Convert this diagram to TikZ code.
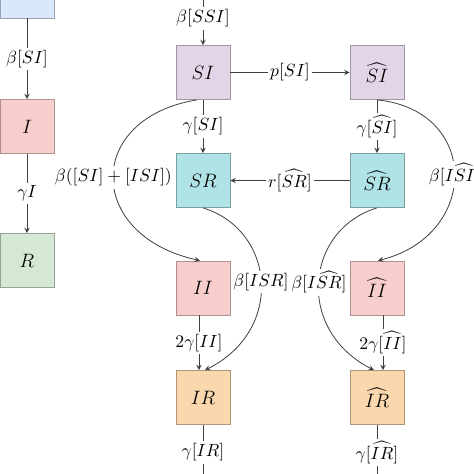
\documentclass[tikz,border=0pt]{standalone}
\usepackage{amsmath}
\usetikzlibrary{arrows, positioning, calc}
\definecolor{sblue}{HTML}{DAE8FC}
\definecolor{ipink}{HTML}{F8CECC}
\definecolor{rgreen}{HTML}{D5E8D4}
\definecolor{sipurple}{HTML}{E1D5E7}
\definecolor{srteal}{HTML}{B0E3E6}
\definecolor{irorange}{HTML}{FAD7AC}

\begin{document}
\begin{tikzpicture}[x=0.0218cm, y=-0.0218cm, >=stealth,
  box/.style={rectangle, minimum width=1.18cm, minimum height=1.18cm, draw=#1!70!black, fill=#1, font=\fontsize{11.5}{13}\selectfont},
  flow/.style={->, draw=black!75, line width=0.5pt},
  rate/.style={fill=white, inner sep=1.5pt, font=\fontsize{10.6}{12}\selectfont}]
\useasboundingbox (0,0) rectangle (474,474);
\clip (0,0) rectangle (474,474);

% Single infection chain
\node[box=sblue] (S) at (27,-9) {};
\node[box=ipink] (I) at (27,126.5) {$I$};
\node[box=rgreen] (R) at (27,260.5) {$R$};

% Pair states
\node[box=sipurple] (SI) at (203,72.5) {$SI$};
\node[box=srteal] (SR) at (203,180.5) {$SR$};
\node[box=ipink] (II) at (203,288) {$II$};
\node[box=irorange] (IR) at (203,397.5) {$IR$};

\node[box=sipurple] (SIh) at (377,72.5) {$\widehat{SI}$};
\node[box=srteal] (SRh) at (377,180.5) {$\widehat{SR}$};
\node[box=ipink] (IIh) at (377,288) {$\widehat{II}$};
\node[box=irorange] (IRh) at (377,397.5) {$\widehat{IR}$};

\coordinate (SSI) at (203,-8);
\coordinate (IRout) at (203,480);
\coordinate (IRhout) at (377,480);

% Straight flows
\draw[flow] (S) -- node[rate] {$\beta[SI]$} (I);
\draw[flow] (I) -- node[rate] {$\gamma I$} (R);
\draw[flow] (SSI) -- node[rate] {$\beta[SSI]$} (SI);
\draw[flow] (SI) -- node[rate] {$\gamma[SI]$} (SR);
\draw[flow] (SIh) -- node[rate] {$\gamma[\widehat{SI}]$} (SRh);
\draw[flow] (SI) -- node[rate] {$p[SI]$} (SIh);
\draw[flow] (SRh) -- node[rate] {$r[\widehat{SR}]$} (SR);
\draw[flow] ($(II.south)+(-4,0)$) -- node[rate] {$2\gamma[II]$} ($(IR.north)+(-4,0)$);
\draw[flow] ($(IIh.south)+(6,0)$) -- node[rate] {$2\gamma[\widehat{II}]$} ($(IRh.north)+(6,0)$);
\draw[flow] (IR) -- node[rate] {$\gamma[IR]$} (IRout);
\draw[flow] (IRh) -- node[rate] {$\gamma[\widehat{IR}]$} (IRhout);

% Curved flows
\draw[flow] ($(SI.south)+(-6,0)$) .. controls (85,118) and (85,235) .. node[rate] {$\beta([SI]+[ISI])$} ($(II.north)+(-3,0)$);
\draw[flow] (SIh.south) .. controls (480,110) and (480,235) .. node[rate] {$\beta[I\widehat{SI}]$} ($(IIh.north)+(1,0)$);
\draw[flow] (SR.south) .. controls (275,230) and (285,330) .. node[rate] {$\beta[ISR]$} ($(IR.north)+(2,0)$);
\draw[flow] (SRh.south) .. controls (305,230) and (295,330) .. node[rate] {$\beta[I\widehat{SR}]$} ($(IRh.north)+(-3,0)$);
\end{tikzpicture}
\end{document}
